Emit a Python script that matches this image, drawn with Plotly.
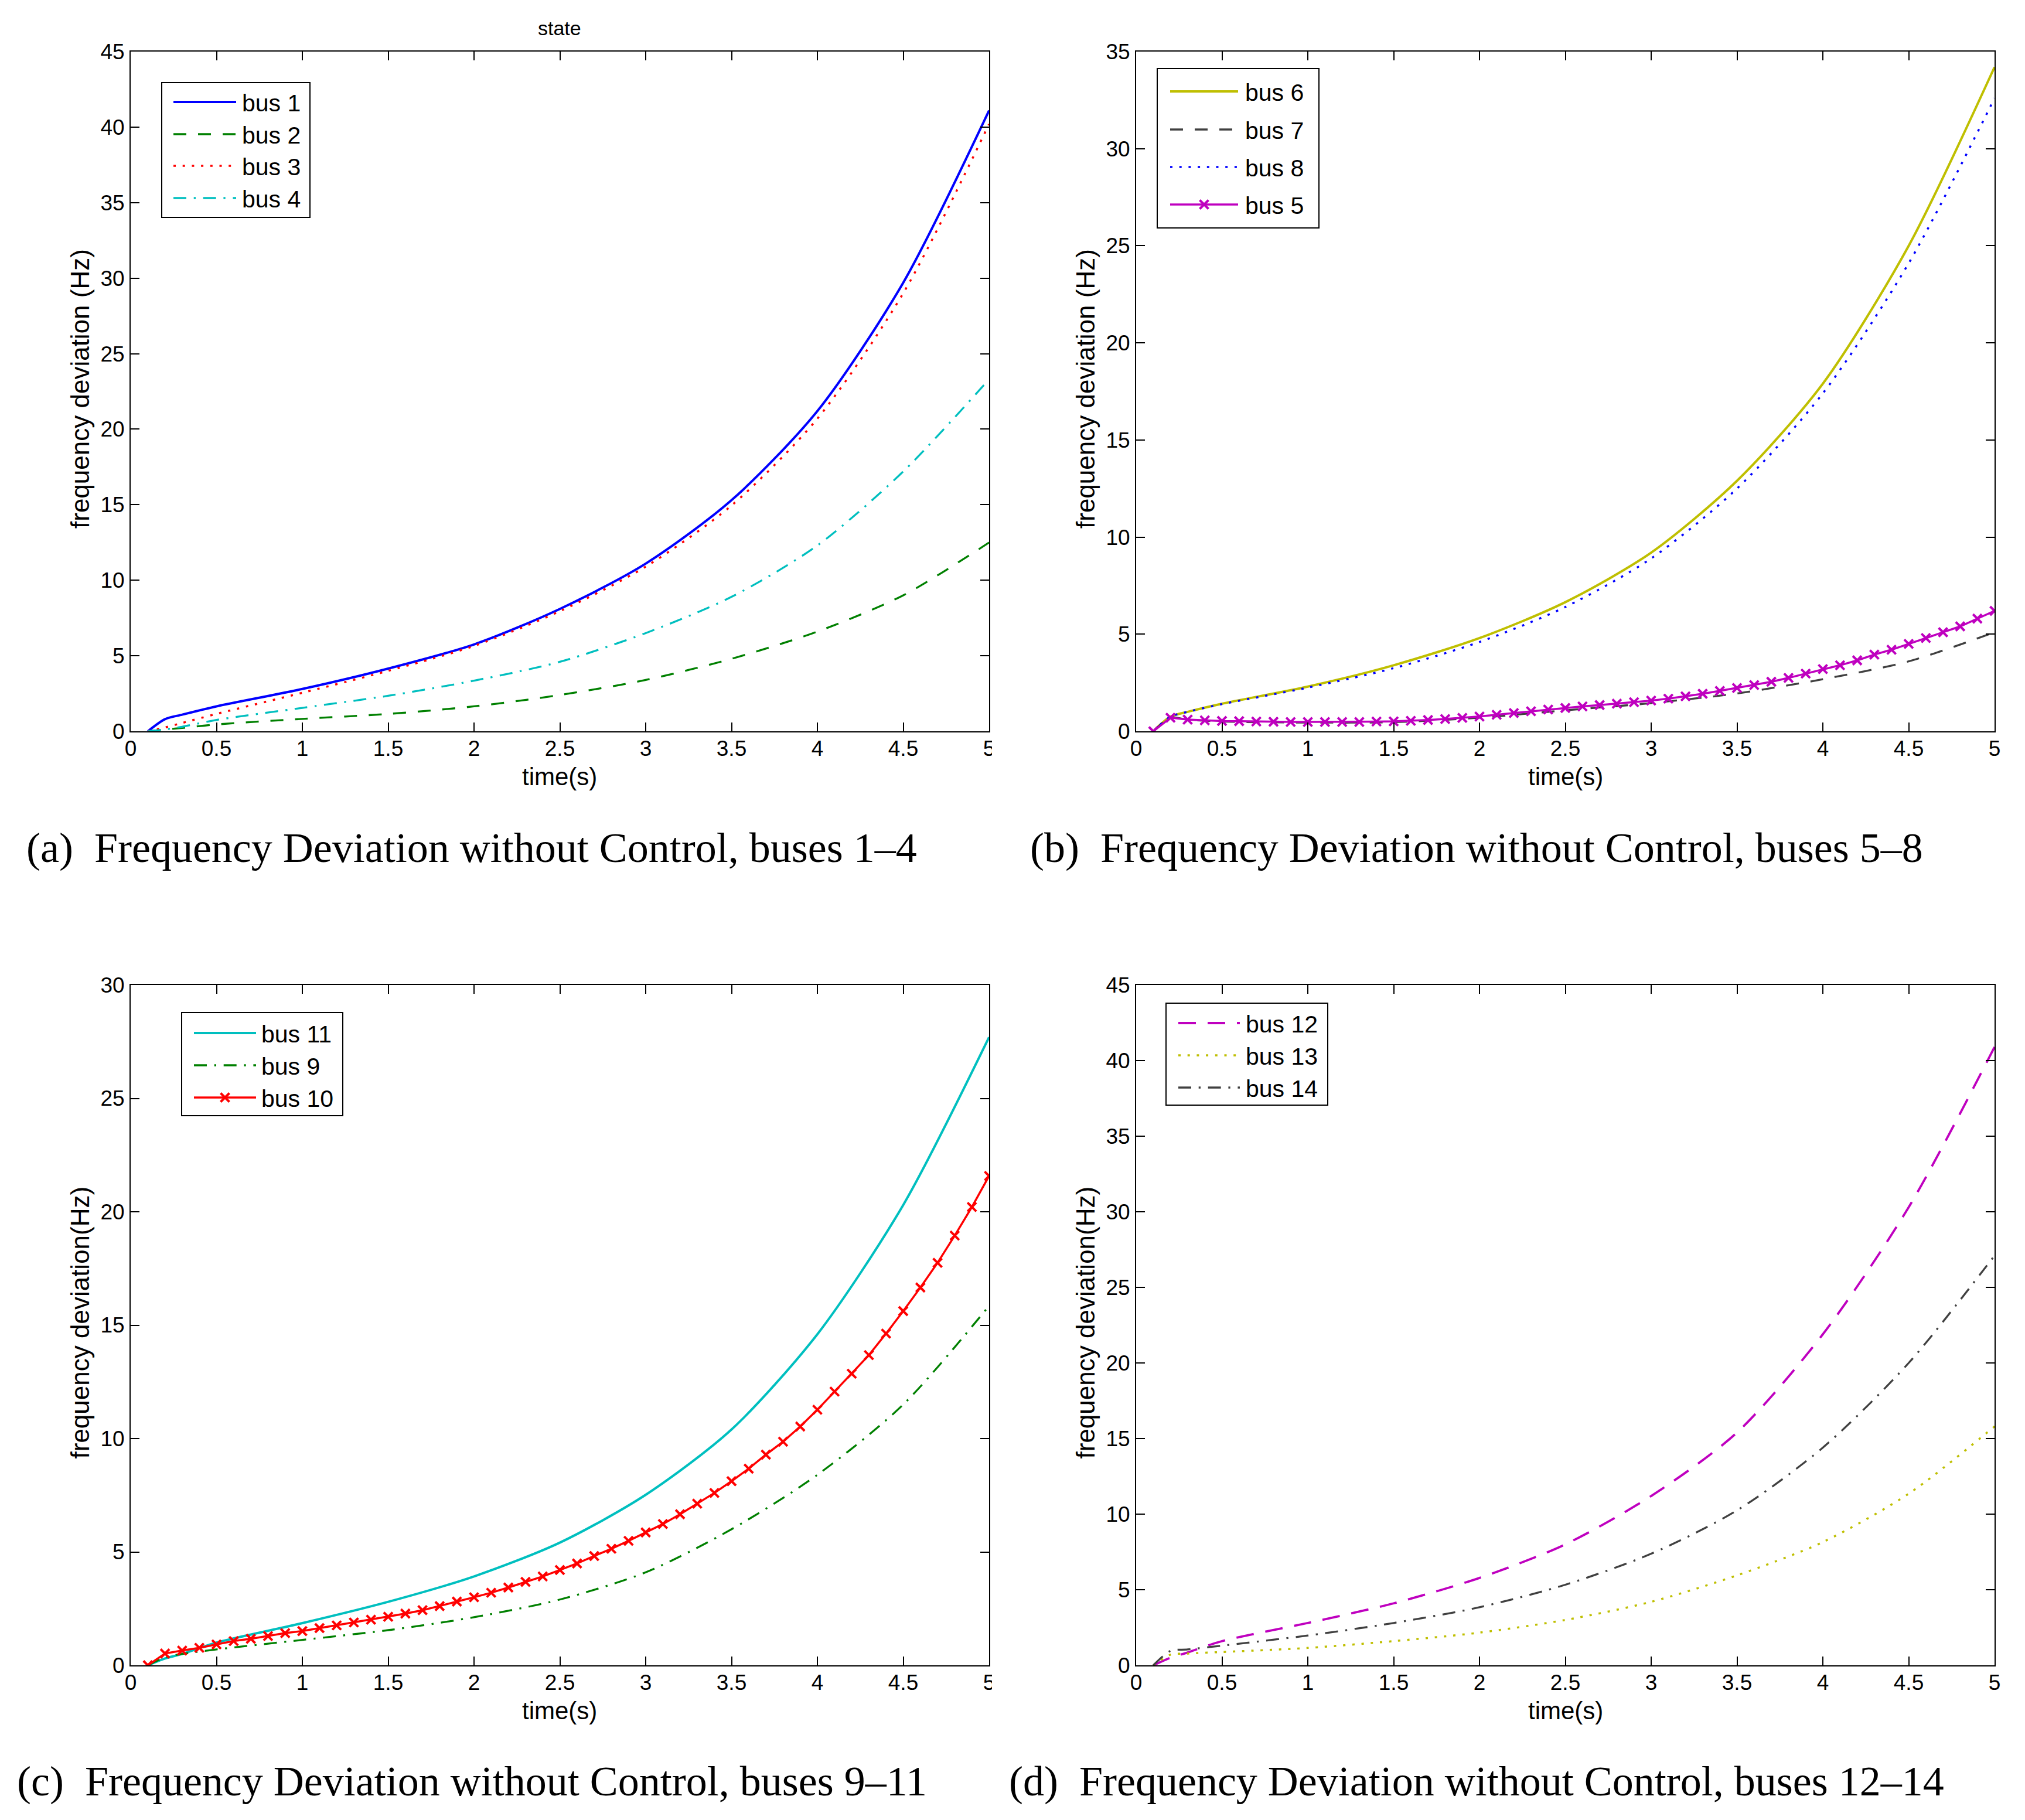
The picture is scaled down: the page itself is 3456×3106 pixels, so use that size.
import plotly.graph_objects as go

W, H = 3456, 3106

# sample times (s)
t_fine = [0.1, 0.2, 0.3, 0.4, 0.5, 0.6, 0.7, 0.8, 0.9, 1.0,
          1.1, 1.2, 1.3, 1.4, 1.5, 1.6, 1.7, 1.8, 1.9, 2.0,
          2.1, 2.2, 2.3, 2.4, 2.5, 2.6, 2.7, 2.8, 2.9, 3.0,
          3.1, 3.2, 3.3, 3.4, 3.5, 3.6, 3.7, 3.8, 3.9, 4.0,
          4.1, 4.2, 4.3, 4.4, 4.5, 4.6, 4.7, 4.8, 4.9, 5.0]
t_coarse = [0.1, 0.2, 0.3, 0.5, 1.0, 1.5, 2.0, 2.5, 3.0, 3.5, 4.0, 4.5, 5.0]

# frequency deviation (Hz)
bus1 = [0, 0.8, 1.1, 1.65, 2.8, 4.15, 5.75, 8.1, 11.1, 15.3, 21.2, 29.7, 41.1]
bus2 = [0, 0.12, 0.22, 0.45, 0.82, 1.15, 1.65, 2.4, 3.4, 4.8, 6.6, 9.0, 12.5]
bus3 = [0, 0.25, 0.55, 1.15, 2.55, 4.0, 5.65, 7.95, 10.9, 14.95, 20.7, 29.0, 40.2]
bus4 = [0, 0.12, 0.3, 0.75, 1.55, 2.35, 3.35, 4.6, 6.5, 8.9, 12.3, 17.2, 23.3]

bus6 = [0, 0.75, 1.0, 1.42, 2.3, 3.4, 4.8, 6.65, 9.2, 12.9, 17.9, 25.0, 34.2]
bus7 = [0, 0.7, 0.6, 0.5, 0.45, 0.47, 0.7, 1.08, 1.45, 1.95, 2.68, 3.6, 5.1]
bus8 = [0, 0.75, 1.0, 1.4, 2.25, 3.25, 4.6, 6.4, 8.9, 12.5, 17.4, 24.1, 32.6]
bus5 = [0, 0.7, 0.6, 0.56, 0.53, 0.52, 0.5, 0.49, 0.48, 0.48,
        0.48, 0.48, 0.48, 0.5, 0.51, 0.54, 0.58, 0.63, 0.69, 0.76,
        0.85, 0.94, 1.03, 1.12, 1.2, 1.28, 1.35, 1.42, 1.5, 1.58,
        1.68, 1.8, 1.93, 2.08, 2.23, 2.38, 2.55, 2.75, 2.97, 3.2,
        3.4, 3.65, 3.95, 4.2, 4.5, 4.8, 5.1, 5.4, 5.8, 6.2]

bus11 = [0, 0.3, 0.5, 1.0, 1.86, 2.8, 3.92, 5.41, 7.52, 10.4, 14.6, 20.3, 27.7]
bus9 = [0, 0.35, 0.5, 0.7, 1.12, 1.55, 2.12, 2.9, 4.1, 6.0, 8.4, 11.5, 15.85]
bus10 = [0, 0.52, 0.65, 0.77, 0.92, 1.07, 1.17, 1.29, 1.42, 1.51,
         1.64, 1.76, 1.89, 2.01, 2.14, 2.28, 2.43, 2.61, 2.81, 3.0,
         3.2, 3.43, 3.68, 3.92, 4.2, 4.49, 4.82, 5.14, 5.49, 5.86,
         6.23, 6.66, 7.13, 7.6, 8.12, 8.67, 9.29, 9.86, 10.53, 11.27,
         12.07, 12.86, 13.68, 14.63, 15.62, 16.66, 17.75, 18.95, 20.21, 21.58]

bus12 = [0, 0.5, 0.85, 1.6, 2.8, 4.1, 5.78, 8.0, 11.2, 15.4, 21.9, 30.3, 40.9]
bus13 = [0, 0.7, 0.78, 0.88, 1.15, 1.6, 2.16, 3.0, 4.2, 5.95, 8.15, 11.35, 15.8]
bus14 = [0, 0.95, 1.05, 1.3, 1.97, 2.8, 3.84, 5.33, 7.38, 10.25, 14.4, 20.0, 27.1]

x_ticks = [0, 0.5, 1, 1.5, 2, 2.5, 3, 3.5, 4, 4.5, 5]
x_ticktext = ["0", "0.5", "1", "1.5", "2", "2.5", "3", "3.5", "4", "4.5", "5"]
y_max = {"a": 45, "b": 35, "c": 30, "d": 45}

captions = {
    "a": "(a)\u00a0\u00a0Frequency Deviation without Control, buses 1\u20134",
    "b": "(b)\u00a0\u00a0Frequency Deviation without Control, buses 5\u20138",
    "c": "(c)\u00a0\u00a0Frequency Deviation without Control, buses 9\u201311",
    "d": "(d)\u00a0\u00a0Frequency Deviation without Control, buses 12\u201314",
}
ylabels = {
    "a": "frequency deviation (Hz)",
    "b": "frequency deviation (Hz)",
    "c": "frequency deviation(Hz)",
    "d": "frequency deviation(Hz)",
}

# colours / line styles (MATLAB defaults)
BLUE, GREEN, RED = "#0000ff", "#008000", "#ff0000"
CYAN, MAGENTA, OLIVE, GRAY = "#00bfbf", "#bf00bf", "#bfbf00", "#404040"
DASH = "22px,20px"
LONGDASH = "30px,20px"
DOT = "4px,11.7px"
DASHDOT = "22px,12.7px,3.3px,12.7px"

SANS = "Liberation Sans"
SERIF = "Liberation Serif"


def fx(p):
    return p / W


def fy(p):
    return 1 - p / H


# axes boxes in pixels: left, right, top, bottom
boxes = {
    "a": (223, 1688, 88, 1248),
    "b": (1939, 3404, 88, 1248),
    "c": (223, 1688, 1681, 2842),
    "d": (1939, 3404, 1681, 2842),
}
axis_ids = {"a": "", "b": "2", "c": "3", "d": "4"}

# series: panel, name, x, y, colour, width, dash, markers
series = [
    ("a", "bus 1", t_coarse, bus1, BLUE, 4, "solid", False),
    ("a", "bus 2", t_coarse, bus2, GREEN, 3.3, DASH, False),
    ("a", "bus 3", t_coarse, bus3, RED, 3.5, DOT, False),
    ("a", "bus 4", t_coarse, bus4, CYAN, 3.3, DASHDOT, False),
    ("b", "bus 6", t_coarse, bus6, OLIVE, 4, "solid", False),
    ("b", "bus 7", t_coarse, bus7, GRAY, 3.3, DASH, False),
    ("b", "bus 8", t_coarse, bus8, BLUE, 3.5, DOT, False),
    ("b", "bus 5", t_fine, bus5, MAGENTA, 3.5, "solid", True),
    ("c", "bus 11", t_coarse, bus11, CYAN, 4, "solid", False),
    ("c", "bus 9", t_coarse, bus9, GREEN, 3.3, DASHDOT, False),
    ("c", "bus 10", t_fine, bus10, RED, 3.5, "solid", True),
    ("d", "bus 12", t_coarse, bus12, MAGENTA, 3.8, LONGDASH, False),
    ("d", "bus 13", t_coarse, bus13, OLIVE, 3.5, DOT, False),
    ("d", "bus 14", t_coarse, bus14, GRAY, 3.3, DASHDOT, False),
]

fig = go.Figure()
for panel, name, xs, ys, color, width, dash, markers in series:
    k = axis_ids[panel]
    fig.add_trace(go.Scatter(
        x=xs, y=ys, name=name,
        xaxis="x" + k, yaxis="y" + k,
        mode="lines+markers" if markers else "lines",
        line=dict(color=color, width=width, dash=dash,
                  shape="linear" if markers else "spline", smoothing=0.8),
        marker=dict(symbol="x-thin", size=15,
                    line=dict(color=color, width=4)),
        showlegend=False,
    ))

axis_style = dict(
    showline=True, linecolor="black", linewidth=2, mirror="ticks",
    ticks="inside", ticklen=15, tickwidth=2, tickcolor="black",
    showgrid=False, zeroline=False, fixedrange=True, automargin=False,
    tickfont=dict(family=SANS, size=37, color="black"),
)

layout = dict(
    width=W, height=H, autosize=False,
    margin=dict(l=0, r=0, t=0, b=0, pad=0),
    paper_bgcolor="white", plot_bgcolor="rgba(0,0,0,0)",
    showlegend=False,
)

annotations = []
shapes = []

for panel, (l, r, t, b) in boxes.items():
    k = axis_ids[panel]
    layout["xaxis" + k] = dict(
        axis_style, domain=[fx(l), fx(r)], range=[0, 5],
        tickvals=x_ticks, ticktext=x_ticktext, anchor="y" + k,
        ticklabelstandoff=-4,
    )
    layout["yaxis" + k] = dict(
        axis_style, domain=[fy(b), fy(t)], range=[0, y_max[panel]],
        tick0=0, dtick=5, anchor="x" + k, ticklabelstandoff=1,
    )
    # axis titles
    annotations.append(dict(
        text="time(s)", x=fx((l + r) / 2), y=fy(b + 77), xref="paper", yref="paper",
        xanchor="center", yanchor="middle", showarrow=False,
        font=dict(family=SANS, size=42, color="black"),
    ))
    annotations.append(dict(
        text=ylabels[panel], x=fx(l - 87), y=fy((t + b) / 2 - 4), xref="paper", yref="paper",
        xanchor="center", yanchor="middle", showarrow=False, textangle=-90,
        font=dict(family=SANS, size=44, color="black"),
    ))

# "state" title on panel (a)
annotations.append(dict(
    text="state", x=fx(955), y=fy(48), xref="paper", yref="paper",
    xanchor="center", yanchor="middle", showarrow=False,
    font=dict(family=SANS, size=34, color="black"),
))

# sub-figure captions
cap_pos = {"a": (805, 1447), "b": (2520, 1447), "c": (805, 3040), "d": (2520, 3040)}
for panel, (cx, cy) in cap_pos.items():
    annotations.append(dict(
        text=captions[panel], x=fx(cx), y=fy(cy), xref="paper", yref="paper",
        xanchor="center", yanchor="middle", showarrow=False,
        font=dict(family=SERIF, size=72, color="black"),
    ))

# MATLAB-style legends: box, rows, sample line x-range, text x
legends = {
    "a": ((276, 141, 529, 371), [174, 229, 283, 338], (296, 403), 415),
    "b": ((1975, 117, 2251, 389), [156, 221, 285, 349], (1997, 2113), 2127),
    "c": ((310, 1728, 585, 1904), [1763, 1818, 1873], (331, 437), 448),
    "d": ((1990, 1712, 2266, 1886), [1746, 1801, 1856], (2011, 2116), 2128),
}
for panel, (box, rows, (s0, s1), tx) in legends.items():
    entries = [s for s in series if s[0] == panel]
    shapes.append(dict(
        type="rect", xref="paper", yref="paper",
        x0=fx(box[0]), x1=fx(box[2]), y0=fy(box[3]), y1=fy(box[1]),
        line=dict(color="black", width=2), fillcolor="white", layer="above",
    ))
    for (p, name, xs, ys, color, width, dash, markers), ry in zip(entries, rows):
        shapes.append(dict(
            type="line", xref="paper", yref="paper",
            x0=fx(s0), x1=fx(s1), y0=fy(ry), y1=fy(ry),
            line=dict(color=color, width=width, dash=dash), layer="above",
        ))
        if markers:
            mx, d = (s0 + s1) / 2, 7.5
            path = "M{},{}L{},{}M{},{}L{},{}".format(
                fx(mx - d), fy(ry - d), fx(mx + d), fy(ry + d),
                fx(mx + d), fy(ry - d), fx(mx - d), fy(ry + d))
            shapes.append(dict(
                type="path", xref="paper", yref="paper", path=path,
                line=dict(color=color, width=4), layer="above",
            ))
        annotations.append(dict(
            text=name, x=fx(tx - 4), y=fy(ry + 2), xref="paper", yref="paper",
            xanchor="left", yanchor="middle", showarrow=False,
            font=dict(family=SANS, size=41, color="black"),
        ))

# the sub-figure crop cuts the last "5" tick label of the left panels in half
for top in (1252, 2846):
    shapes.append(dict(
        type="rect", xref="paper", yref="paper",
        x0=fx(1693), x1=fx(1760), y0=fy(top + 55), y1=fy(top),
        line=dict(width=0), fillcolor="white", layer="above",
    ))

layout["annotations"] = annotations
layout["shapes"] = shapes
fig.update_layout(**layout)

fig.write_html("out.html", config={"displayModeBar": False},
               post_script="document.body.style.margin='0px';")
